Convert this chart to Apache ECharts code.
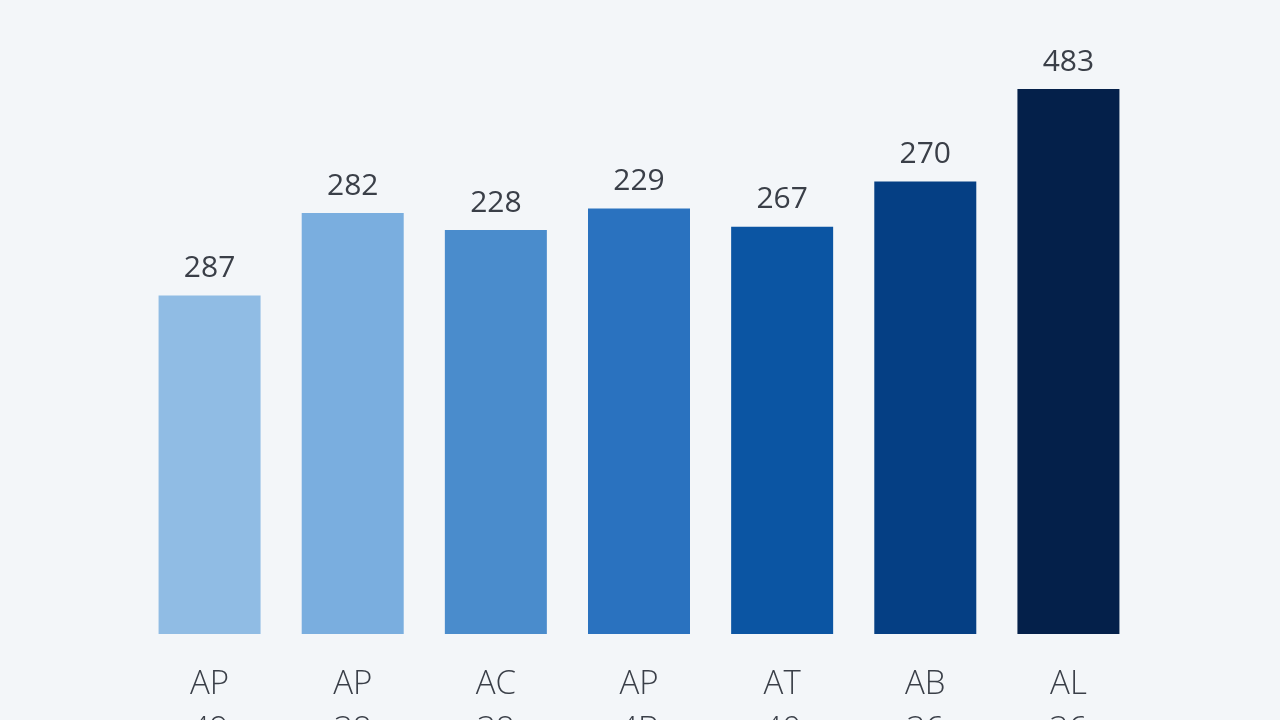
<!DOCTYPE html>
<html>
<head>
<meta charset="utf-8">
<script src="https://cdn.jsdelivr.net/npm/echarts@6/dist/echarts.min.js"></script>
<style>html,body{margin:0;padding:0;background:#f3f6f9;}</style>
</head>
<body>
<div id="container" style="width:1280px;height:720px"></div>
<script>
var categories = ['AP\n49', 'AP\n38', 'AC\n38', 'AP\n4B', 'AT\n40', 'AB\n36', 'AL\n36'];
var values = [300, 373, 358, 377, 361, 401, 483];
var valueLabels = ['287', '282', '228', '229', '267', '270', '483'];
var colors = ['#90bce4', '#7aaedf', '#4a8ccc', '#2a72bf', '#0b55a3', '#053f84', '#04204a'];

var myChart = echarts.init(document.getElementById('container'));
var option = {
    backgroundColor: '#f3f6f9',
    grid: { left: 138, right: 140, top: 89, bottom: 86, containLabel: false, outerBoundsMode: 'none' },
    xAxis: {
        type: 'category',
        data: categories,
        axisLine: { show: false },
        axisTick: { show: false },
        axisLabel: { margin: 28, fontSize: 33, lineHeight: 46, color: '#3a3f48', fontFamily: 'Open Sans', fontWeight: 300, verticalAlign: 'top' }
    },
    yAxis: { type: 'value', min: 0, max: 483, show: false, splitLine: { show: false } },
    series: [{
        type: 'bar',
        barWidth: 102,
        data: values.map(function (v, i) { return { value: v, itemStyle: { color: colors[i] } }; }),
        label: {
            show: true,
            position: 'top',
            distance: 12,
            fontSize: 30,
            color: '#3a3f48',
            fontFamily: 'Open Sans',
            formatter: function (p) { return valueLabels[p.dataIndex]; }
        }
    }]
};
myChart.setOption(option);
</script>
</body>
</html>
